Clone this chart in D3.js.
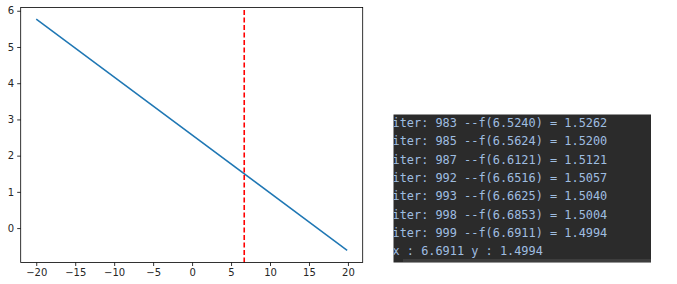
<!DOCTYPE html>
<html>
  <head>
    <meta charset="utf-8">
    <script src="https://d3js.org/d3.v7.min.js"></script>
    <style>
      body { margin: 0; background: #fff; }
      .tick text { font-family: "DejaVu Sans", sans-serif; font-size: 10px; fill: #262626; }
      .term { font-family: "DejaVu Sans Mono", monospace; font-size: 11.9px; fill: #9fbde0; }
    </style>
  </head>
  <body>
    <svg></svg>
    <script>
      // dados da reta e do ponto encontrado
      const lineX = [-20, 19.9]
      const lineY = [5.77, -0.614]
      const xFound = 6.6911
      const xTicks = [-20, -15, -10, -5, 0, 5, 10, 15, 20]
      const yTicks = [0, 1, 2, 3, 4, 5, 6]

      // saída do terminal
      const iters = [983, 985, 987, 992, 993, 998, 999]
      const iterX = ['6.5240', '6.5624', '6.6121', '6.6516', '6.6625', '6.6853', '6.6911']
      const iterF = ['1.5262', '1.5200', '1.5121', '1.5057', '1.5040', '1.5004', '1.4994']
      const finalLine = 'x : 6.6911 y : 1.4994'

      const svg = d3.select('svg')
        .attr('width', 677)
        .attr('height', 284)

      const x = d3.scaleLinear().domain([-21.995, 21.895]).range([20.7, 362.7])
      const y = d3.scaleLinear().domain([-0.95, 6.09]).range([262.5, 7.5])

      const plot = svg.append('g')

      plot.append('path')
        .datum(lineX.map((v, i) => [v, lineY[i]]))
        .attr('fill', 'none')
        .attr('stroke', '#1f77b4')
        .attr('stroke-width', 1.5)
        .attr('d', d3.line().x(d => x(d[0])).y(d => y(d[1])))

      plot.append('line')
        .attr('x1', x(xFound)).attr('x2', x(xFound))
        .attr('y1', y.range()[0]).attr('y2', y.range()[1])
        .attr('stroke', '#ff0000')
        .attr('stroke-width', 1.6)
        .attr('stroke-dasharray', '5,2.5')

      // eixos
      const fmt = d3.format('d')
      const xAxis = plot.append('g')
        .attr('transform', `translate(0, ${y.range()[0]})`)
        .call(d3.axisBottom(x).tickValues(xTicks).tickFormat(fmt).tickSize(3.5).tickPadding(3))
      const yAxis = plot.append('g')
        .attr('transform', `translate(${x.range()[0]}, 0)`)
        .call(d3.axisLeft(y).tickValues(yTicks).tickFormat(fmt).tickSize(3.5).tickPadding(3))
      ;[xAxis, yAxis].forEach(a => {
        a.select('.domain').remove()
        a.selectAll('.tick line').attr('stroke', '#000').attr('stroke-width', 0.8)
      })

      plot.append('rect')
        .attr('x', x.range()[0]).attr('y', y.range()[1])
        .attr('width', x.range()[1] - x.range()[0])
        .attr('height', y.range()[0] - y.range()[1])
        .attr('fill', 'none')
        .attr('stroke', '#000')
        .attr('stroke-width', 0.8)

      // terminal
      const term = svg.append('g')
      svg.append('clipPath').attr('id', 'clip')
        .append('rect').attr('x', 393.5).attr('y', 114.5).attr('width', 257.5).attr('height', 148)

      term.append('rect')
        .attr('x', 393.5).attr('y', 114.5).attr('width', 257.5).attr('height', 148)
        .attr('fill', '#2b2b2b')
      term.append('rect')
        .attr('x', 403).attr('y', 259).attr('width', 248).attr('height', 3)
        .attr('fill', '#3d3d3d')

      const lines = iters.map((it, i) => `iter: ${it} --f(${iterX[i]}) = ${iterF[i]}`).concat([finalLine])

      term.append('g').attr('clip-path', 'url(#clip)')
        .selectAll('text')
        .data(lines)
        .join('text')
          .attr('class', 'term')
          .attr('x', 392.5)
          .attr('y', (d, i) => 127 + i * 18.3)
          .text(d => d)
    </script>
  </body>
</html>
